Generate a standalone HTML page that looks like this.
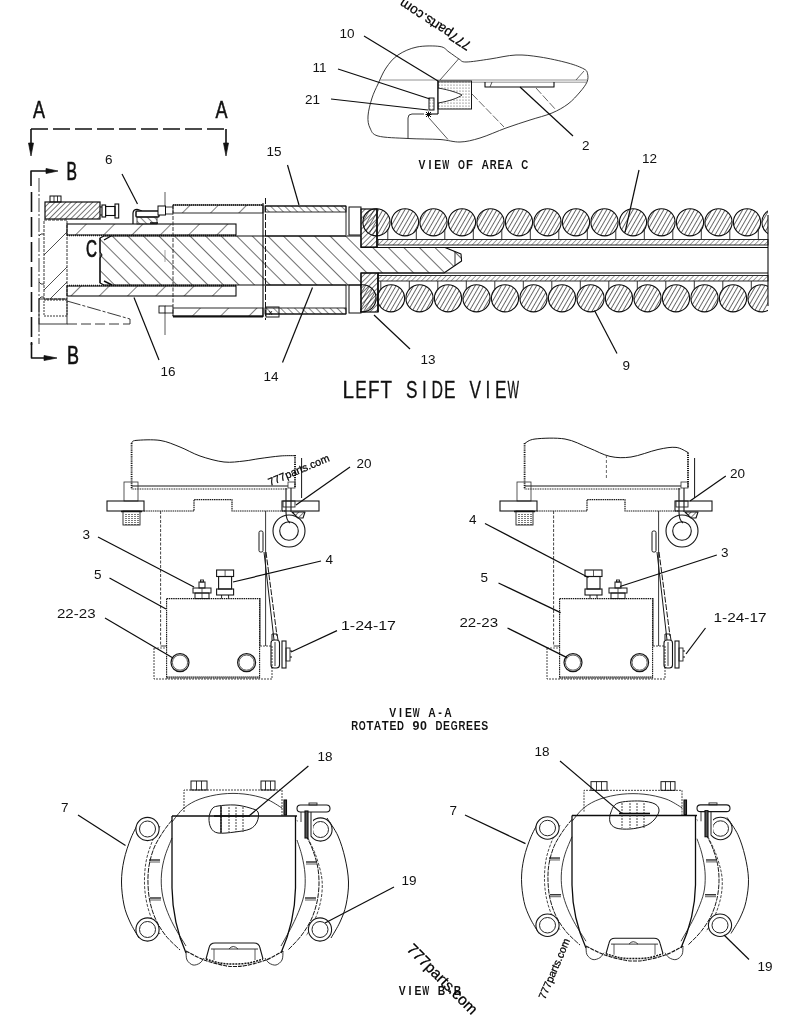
<!DOCTYPE html>
<html><head><meta charset="utf-8"><title>Parts diagram</title>
<style>
html,body{margin:0;padding:0;background:#fff;}
body{width:800px;height:1028px;overflow:hidden;font-family:"Liberation Sans",sans-serif;}
svg{display:block;opacity:0.999;will-change:transform}
</style></head><body>
<svg width="800" height="1028" viewBox="0 0 800 1028">
<rect width="800" height="1028" fill="#fff"/>
<defs>
<pattern id="hR" width="11" height="11" patternUnits="userSpaceOnUse" patternTransform="rotate(-45)"><line x1="0" y1="0" x2="0" y2="11" stroke="#0c0c0c" stroke-width="1.20"/></pattern>
<pattern id="hS" width="20" height="20" patternUnits="userSpaceOnUse" patternTransform="rotate(-135)"><line x1="0" y1="0" x2="0" y2="20" stroke="#161616" stroke-width="1.10"/></pattern>
<pattern id="hB" width="3.8" height="3.8" patternUnits="userSpaceOnUse" patternTransform="rotate(-135)"><line x1="0" y1="0" x2="0" y2="3.8" stroke="#0c0c0c" stroke-width="1.10"/></pattern>
<pattern id="hT" width="5" height="5" patternUnits="userSpaceOnUse" patternTransform="rotate(-45)"><line x1="0" y1="0" x2="0" y2="5" stroke="#161616" stroke-width="1.00"/></pattern>
<pattern id="hC" width="3.8" height="3.8" patternUnits="userSpaceOnUse" patternTransform="rotate(-150)"><line x1="0" y1="0" x2="0" y2="3.8" stroke="#0c0c0c" stroke-width="1.20"/></pattern>
<pattern id="hI" width="3.5" height="3.5" patternUnits="userSpaceOnUse" patternTransform="rotate(-135)"><line x1="0" y1="0" x2="0" y2="3.5" stroke="#303030" stroke-width="0.90"/></pattern>
<pattern id="hD" width="3" height="3" patternUnits="userSpaceOnUse"><circle cx="1" cy="1" r="0.6" fill="#444"/></pattern>
</defs>
<text transform="translate(39.00,117.5) scale(0.781,1)" x="0" y="0" font-family="'Liberation Sans', sans-serif" font-size="23.04" font-weight="normal" text-anchor="middle" fill="#111" style="stroke:#111;stroke-width:0.5px">A</text>
<text transform="translate(221.50,117.5) scale(0.781,1)" x="0" y="0" font-family="'Liberation Sans', sans-serif" font-size="23.04" font-weight="normal" text-anchor="middle" fill="#111" style="stroke:#111;stroke-width:0.5px">A</text>
<line x1="31.0" y1="129.0" x2="226.0" y2="129.0" stroke="#111" stroke-width="1.60" stroke-dasharray="17 5" />
<line x1="31.0" y1="129.0" x2="31.0" y2="150.0" stroke="#111" stroke-width="1.60" />
<path d="M28.5,143.0 L33.5,143.0 L31.0,156.0 Z" fill="#111" stroke="#111" stroke-width="0.70" stroke-linejoin="round" />
<line x1="226.0" y1="129.0" x2="226.0" y2="150.0" stroke="#111" stroke-width="1.60" />
<path d="M223.5,143.0 L228.5,143.0 L226.0,156.0 Z" fill="#111" stroke="#111" stroke-width="0.70" stroke-linejoin="round" />
<path d="M31.0,186.0 L31.0,171.0 L50.0,171.0" fill="none" stroke="#111" stroke-width="1.60" stroke-linejoin="round" />
<path d="M46.0,168.5 L46.0,173.5 L58.0,171.0 Z" fill="#111" stroke="#111" stroke-width="0.70" stroke-linejoin="round" />
<text transform="translate(71.75,180.0) scale(0.626,1)" x="0" y="0" font-family="'Liberation Sans', sans-serif" font-size="25.14" font-weight="normal" text-anchor="middle" fill="#111" style="stroke:#111;stroke-width:0.6px">B</text>
<line x1="31.5" y1="192.0" x2="31.5" y2="345.0" stroke="#111" stroke-width="1.60" stroke-dasharray="20 5" />
<path d="M31.5,343.0 L31.5,358.0 L48.0,358.0" fill="none" stroke="#111" stroke-width="1.60" stroke-linejoin="round" />
<path d="M44.0,355.5 L44.0,360.5 L57.0,358.0 Z" fill="#111" stroke="#111" stroke-width="0.70" stroke-linejoin="round" />
<text transform="translate(73.00,364.0) scale(0.696,1)" x="0" y="0" font-family="'Liberation Sans', sans-serif" font-size="25.84" font-weight="normal" text-anchor="middle" fill="#111" style="stroke:#111;stroke-width:0.6px">B</text>
<line x1="39.0" y1="178.0" x2="39.0" y2="344.0" stroke="#303030" stroke-width="0.90" stroke-dasharray="14 2 2 2" />
<rect x="45.0" y="202.0" width="55.0" height="17.0" rx="0" fill="url(#hB)" stroke="#0c0c0c" stroke-width="1.20"/>
<rect x="50.0" y="196.0" width="11.0" height="6.0" rx="0" fill="none" stroke="#0c0c0c" stroke-width="1.00"/>
<line x1="54.0" y1="196.0" x2="54.0" y2="202.0" stroke="#0c0c0c" stroke-width="0.80" />
<line x1="57.5" y1="196.0" x2="57.5" y2="202.0" stroke="#0c0c0c" stroke-width="0.80" />
<rect x="102.0" y="205.0" width="3.6" height="12.0" rx="0" fill="none" stroke="#0c0c0c" stroke-width="1.10"/>
<rect x="105.6" y="206.5" width="9.4" height="9.0" rx="0" fill="none" stroke="#0c0c0c" stroke-width="1.10"/>
<rect x="115.0" y="204.0" width="3.7" height="14.0" rx="0" fill="none" stroke="#0c0c0c" stroke-width="1.10"/>
<line x1="100.0" y1="207.0" x2="102.0" y2="207.0" stroke="#0c0c0c" stroke-width="1.00" />
<line x1="100.0" y1="215.0" x2="102.0" y2="215.0" stroke="#0c0c0c" stroke-width="1.00" />
<rect x="44.0" y="220.0" width="23.0" height="79.0" rx="0" fill="none" stroke="#222" stroke-width="0.90" stroke-dasharray="3 1"/>
<line x1="44.0" y1="255.0" x2="67.0" y2="232.0" stroke="#222" stroke-width="0.80" />
<line x1="44.0" y1="290.0" x2="67.0" y2="267.0" stroke="#222" stroke-width="0.80" />
<line x1="50.0" y1="299.0" x2="67.0" y2="282.0" stroke="#222" stroke-width="0.80" />
<path d="M39,236 L41,234 L44,234 M39,282 L41,284 L44,284 M39,299 L41,297 L44,297" fill="none" stroke="#222" stroke-width="0.90" stroke-linejoin="round" />
<rect x="67.0" y="224.0" width="169.0" height="11.0" rx="0" fill="url(#hS)" stroke="#0c0c0c" stroke-width="1.10"/>
<line x1="67.0" y1="235.5" x2="236.0" y2="235.5" stroke="#161616" stroke-width="1.40" stroke-dasharray="1 1" />
<rect x="67.0" y="286.0" width="169.0" height="10.0" rx="0" fill="url(#hS)" stroke="#0c0c0c" stroke-width="1.10"/>
<line x1="67.0" y1="285.5" x2="236.0" y2="285.5" stroke="#161616" stroke-width="1.40" stroke-dasharray="1 1" />
<path d="M100,238 L104,236 L361,236 L361,247.5 L445,247.5 L461,254 L461.6,261 L444,273 L361,273 L361,285 L104,285 L100,283 Z" fill="url(#hR)" stroke="#0c0c0c" stroke-width="1.10" stroke-linejoin="round" />
<path d="M455,251.5 L455,266" fill="none" stroke="#161616" stroke-width="0.90" stroke-linejoin="round" />
<path d="M100,238 L100,252 L102,255 L100,258 L100,283" fill="none" stroke="#0c0c0c" stroke-width="1.10" stroke-linejoin="round" />
<path d="M104,240 L111,236 M104,281 L112,285" fill="none" stroke="#0c0c0c" stroke-width="1.40" stroke-linejoin="round" />
<text transform="translate(91.50,257.0) scale(0.642,1)" x="0" y="0" font-family="'Liberation Sans', sans-serif" font-size="23.74" font-weight="normal" text-anchor="middle" fill="#111" style="stroke:#111;stroke-width:0.7px">C</text>
<rect x="173.0" y="205.0" width="90.0" height="8.0" rx="0" fill="url(#hS)" stroke="#161616" stroke-width="0.90"/>
<line x1="165.0" y1="207.0" x2="173.0" y2="207.0" stroke="#222" stroke-width="0.90" />
<line x1="165.0" y1="214.0" x2="173.0" y2="214.0" stroke="#222" stroke-width="0.90" />
<line x1="165.0" y1="306.0" x2="173.0" y2="306.0" stroke="#222" stroke-width="0.90" />
<line x1="165.0" y1="313.0" x2="173.0" y2="313.0" stroke="#222" stroke-width="0.90" />
<rect x="173.0" y="308.0" width="90.0" height="8.0" rx="0" fill="url(#hS)" stroke="#161616" stroke-width="0.90"/>
<line x1="173.0" y1="205.0" x2="263.0" y2="205.0" stroke="#111" stroke-width="1.60" stroke-dasharray="1.2 0.8" />
<line x1="173.0" y1="316.5" x2="263.0" y2="316.5" stroke="#111" stroke-width="1.80" />
<line x1="173.0" y1="205.0" x2="173.0" y2="316.0" stroke="#222" stroke-width="0.90" stroke-dasharray="4 1.5" />
<line x1="165.0" y1="192.0" x2="165.0" y2="207.0" stroke="#303030" stroke-width="0.80" />
<line x1="165.0" y1="313.0" x2="165.0" y2="335.0" stroke="#303030" stroke-width="0.80" />
<line x1="165.0" y1="250.0" x2="165.0" y2="262.0" stroke="#777" stroke-width="0.70" />
<line x1="263.0" y1="203.0" x2="263.0" y2="317.0" stroke="#0c0c0c" stroke-width="1.10" />
<line x1="265.5" y1="198.0" x2="265.5" y2="320.0" stroke="#161616" stroke-width="1.00" stroke-dasharray="6 2" />
<rect x="159.0" y="306.0" width="6.0" height="7.0" rx="0" fill="none" stroke="#0c0c0c" stroke-width="0.90"/>
<path d="M133,224 L133,213 Q133.5,209 138,209.5 L142,211" fill="none" stroke="#0c0c0c" stroke-width="1.20" stroke-linejoin="round" />
<rect x="136.0" y="211.0" width="23.0" height="6.0" rx="1" fill="#fff" stroke="#111" stroke-width="1.50"/>
<rect x="137.0" y="217.0" width="20.0" height="7.0" rx="0" fill="url(#hT)" stroke="#222" stroke-width="0.80"/>
<line x1="150.0" y1="223.0" x2="158.0" y2="223.0" stroke="#111" stroke-width="1.60" />
<rect x="158.0" y="206.0" width="7.5" height="9.0" rx="0" fill="#fff" stroke="#0c0c0c" stroke-width="1.00"/>
<rect x="265.0" y="206.0" width="81.0" height="6.0" rx="0" fill="url(#hT)" stroke="#161616" stroke-width="0.90"/>
<rect x="265.0" y="308.0" width="81.0" height="6.0" rx="0" fill="url(#hT)" stroke="#161616" stroke-width="0.90"/>
<line x1="265.0" y1="206.0" x2="346.0" y2="206.0" stroke="#0c0c0c" stroke-width="1.20" />
<line x1="265.0" y1="314.0" x2="346.0" y2="314.0" stroke="#0c0c0c" stroke-width="1.20" />
<line x1="265.0" y1="236.0" x2="346.0" y2="236.0" stroke="#0c0c0c" stroke-width="1.00" />
<line x1="265.0" y1="285.0" x2="346.0" y2="285.0" stroke="#0c0c0c" stroke-width="1.00" />
<rect x="266.0" y="307.0" width="13.0" height="10.0" rx="0" fill="none" stroke="#161616" stroke-width="1.00"/>
<text x="268.5" y="315.0" font-family="'Liberation Sans', sans-serif" font-size="8" font-weight="normal" text-anchor="start" fill="#111" >x</text>
<rect x="349.0" y="207.0" width="12.0" height="28.0" rx="0" fill="none" stroke="#0c0c0c" stroke-width="1.00"/>
<rect x="349.0" y="285.0" width="12.0" height="28.0" rx="0" fill="none" stroke="#0c0c0c" stroke-width="1.00"/>
<line x1="346.0" y1="206.0" x2="346.0" y2="235.0" stroke="#0c0c0c" stroke-width="0.90" />
<line x1="346.0" y1="285.0" x2="346.0" y2="314.0" stroke="#0c0c0c" stroke-width="0.90" />
<rect x="361.0" y="209.0" width="16.0" height="38.0" rx="0" fill="url(#hB)" stroke="#0c0c0c" stroke-width="1.20"/>
<rect x="361.0" y="273.0" width="17.0" height="39.0" rx="0" fill="url(#hB)" stroke="#0c0c0c" stroke-width="1.20"/>
<line x1="377.0" y1="209.0" x2="377.0" y2="247.0" stroke="#111" stroke-width="1.60" />
<line x1="378.0" y1="273.0" x2="378.0" y2="312.0" stroke="#111" stroke-width="1.60" />
<rect x="378.0" y="239.5" width="390.0" height="5.5" rx="0" fill="url(#hI)" stroke="#161616" stroke-width="0.90"/>
<rect x="378.0" y="275.5" width="390.0" height="5.5" rx="0" fill="url(#hI)" stroke="#161616" stroke-width="0.90"/>
<line x1="378.0" y1="247.5" x2="768.0" y2="247.5" stroke="#0c0c0c" stroke-width="1.10" />
<line x1="378.0" y1="273.0" x2="768.0" y2="273.0" stroke="#0c0c0c" stroke-width="1.10" />
<line x1="768.0" y1="215.0" x2="768.0" y2="306.0" stroke="#0c0c0c" stroke-width="1.10" />
<clipPath id="cc"><rect x="360" y="200" width="408" height="120"/></clipPath><g clip-path="url(#cc)">
<circle cx="376.5" cy="222.3" r="13.6" fill="url(#hC)" stroke="#0c0c0c" stroke-width="1.10"/>
<circle cx="405.0" cy="222.3" r="13.6" fill="url(#hC)" stroke="#0c0c0c" stroke-width="1.10"/>
<line x1="387.8" y1="229.0" x2="387.8" y2="239.5" stroke="#222" stroke-width="0.90" />
<circle cx="433.5" cy="222.3" r="13.6" fill="url(#hC)" stroke="#0c0c0c" stroke-width="1.10"/>
<line x1="416.3" y1="229.0" x2="416.3" y2="239.5" stroke="#222" stroke-width="0.90" />
<circle cx="462.0" cy="222.3" r="13.6" fill="url(#hC)" stroke="#0c0c0c" stroke-width="1.10"/>
<line x1="444.8" y1="229.0" x2="444.8" y2="239.5" stroke="#222" stroke-width="0.90" />
<circle cx="490.5" cy="222.3" r="13.6" fill="url(#hC)" stroke="#0c0c0c" stroke-width="1.10"/>
<line x1="473.3" y1="229.0" x2="473.3" y2="239.5" stroke="#222" stroke-width="0.90" />
<circle cx="519.0" cy="222.3" r="13.6" fill="url(#hC)" stroke="#0c0c0c" stroke-width="1.10"/>
<line x1="501.8" y1="229.0" x2="501.8" y2="239.5" stroke="#222" stroke-width="0.90" />
<circle cx="547.5" cy="222.3" r="13.6" fill="url(#hC)" stroke="#0c0c0c" stroke-width="1.10"/>
<line x1="530.3" y1="229.0" x2="530.3" y2="239.5" stroke="#222" stroke-width="0.90" />
<circle cx="576.0" cy="222.3" r="13.6" fill="url(#hC)" stroke="#0c0c0c" stroke-width="1.10"/>
<line x1="558.8" y1="229.0" x2="558.8" y2="239.5" stroke="#222" stroke-width="0.90" />
<circle cx="604.5" cy="222.3" r="13.6" fill="url(#hC)" stroke="#0c0c0c" stroke-width="1.10"/>
<line x1="587.3" y1="229.0" x2="587.3" y2="239.5" stroke="#222" stroke-width="0.90" />
<circle cx="633.0" cy="222.3" r="13.6" fill="url(#hC)" stroke="#0c0c0c" stroke-width="1.10"/>
<line x1="615.8" y1="229.0" x2="615.8" y2="239.5" stroke="#222" stroke-width="0.90" />
<circle cx="661.5" cy="222.3" r="13.6" fill="url(#hC)" stroke="#0c0c0c" stroke-width="1.10"/>
<line x1="644.3" y1="229.0" x2="644.3" y2="239.5" stroke="#222" stroke-width="0.90" />
<circle cx="690.0" cy="222.3" r="13.6" fill="url(#hC)" stroke="#0c0c0c" stroke-width="1.10"/>
<line x1="672.8" y1="229.0" x2="672.8" y2="239.5" stroke="#222" stroke-width="0.90" />
<circle cx="718.5" cy="222.3" r="13.6" fill="url(#hC)" stroke="#0c0c0c" stroke-width="1.10"/>
<line x1="701.3" y1="229.0" x2="701.3" y2="239.5" stroke="#222" stroke-width="0.90" />
<circle cx="747.0" cy="222.3" r="13.6" fill="url(#hC)" stroke="#0c0c0c" stroke-width="1.10"/>
<line x1="729.8" y1="229.0" x2="729.8" y2="239.5" stroke="#222" stroke-width="0.90" />
<circle cx="775.5" cy="222.3" r="13.6" fill="url(#hC)" stroke="#0c0c0c" stroke-width="1.10"/>
<line x1="758.3" y1="229.0" x2="758.3" y2="239.5" stroke="#222" stroke-width="0.90" />
<circle cx="362.5" cy="298.3" r="13.6" fill="url(#hC)" stroke="#0c0c0c" stroke-width="1.10"/>
<circle cx="391.0" cy="298.3" r="13.6" fill="url(#hC)" stroke="#0c0c0c" stroke-width="1.10"/>
<line x1="380.8" y1="281.0" x2="380.8" y2="290.0" stroke="#222" stroke-width="0.90" />
<circle cx="419.5" cy="298.3" r="13.6" fill="url(#hC)" stroke="#0c0c0c" stroke-width="1.10"/>
<line x1="409.3" y1="281.0" x2="409.3" y2="290.0" stroke="#222" stroke-width="0.90" />
<circle cx="448.0" cy="298.3" r="13.6" fill="url(#hC)" stroke="#0c0c0c" stroke-width="1.10"/>
<line x1="437.8" y1="281.0" x2="437.8" y2="290.0" stroke="#222" stroke-width="0.90" />
<circle cx="476.5" cy="298.3" r="13.6" fill="url(#hC)" stroke="#0c0c0c" stroke-width="1.10"/>
<line x1="466.3" y1="281.0" x2="466.3" y2="290.0" stroke="#222" stroke-width="0.90" />
<circle cx="505.0" cy="298.3" r="13.6" fill="url(#hC)" stroke="#0c0c0c" stroke-width="1.10"/>
<line x1="494.8" y1="281.0" x2="494.8" y2="290.0" stroke="#222" stroke-width="0.90" />
<circle cx="533.5" cy="298.3" r="13.6" fill="url(#hC)" stroke="#0c0c0c" stroke-width="1.10"/>
<line x1="523.3" y1="281.0" x2="523.3" y2="290.0" stroke="#222" stroke-width="0.90" />
<circle cx="562.0" cy="298.3" r="13.6" fill="url(#hC)" stroke="#0c0c0c" stroke-width="1.10"/>
<line x1="551.8" y1="281.0" x2="551.8" y2="290.0" stroke="#222" stroke-width="0.90" />
<circle cx="590.5" cy="298.3" r="13.6" fill="url(#hC)" stroke="#0c0c0c" stroke-width="1.10"/>
<line x1="580.3" y1="281.0" x2="580.3" y2="290.0" stroke="#222" stroke-width="0.90" />
<circle cx="619.0" cy="298.3" r="13.6" fill="url(#hC)" stroke="#0c0c0c" stroke-width="1.10"/>
<line x1="608.8" y1="281.0" x2="608.8" y2="290.0" stroke="#222" stroke-width="0.90" />
<circle cx="647.5" cy="298.3" r="13.6" fill="url(#hC)" stroke="#0c0c0c" stroke-width="1.10"/>
<line x1="637.3" y1="281.0" x2="637.3" y2="290.0" stroke="#222" stroke-width="0.90" />
<circle cx="676.0" cy="298.3" r="13.6" fill="url(#hC)" stroke="#0c0c0c" stroke-width="1.10"/>
<line x1="665.8" y1="281.0" x2="665.8" y2="290.0" stroke="#222" stroke-width="0.90" />
<circle cx="704.5" cy="298.3" r="13.6" fill="url(#hC)" stroke="#0c0c0c" stroke-width="1.10"/>
<line x1="694.3" y1="281.0" x2="694.3" y2="290.0" stroke="#222" stroke-width="0.90" />
<circle cx="733.0" cy="298.3" r="13.6" fill="url(#hC)" stroke="#0c0c0c" stroke-width="1.10"/>
<line x1="722.8" y1="281.0" x2="722.8" y2="290.0" stroke="#222" stroke-width="0.90" />
<circle cx="761.5" cy="298.3" r="13.6" fill="url(#hC)" stroke="#0c0c0c" stroke-width="1.10"/>
<line x1="751.3" y1="281.0" x2="751.3" y2="290.0" stroke="#222" stroke-width="0.90" />
<circle cx="790.0" cy="298.3" r="13.6" fill="url(#hC)" stroke="#0c0c0c" stroke-width="1.10"/>
<line x1="779.8" y1="281.0" x2="779.8" y2="290.0" stroke="#222" stroke-width="0.90" />
</g>
<rect x="39.0" y="299.0" width="28.0" height="25.0" rx="0" fill="none" stroke="#222" stroke-width="0.90"/>
<rect x="44.0" y="300.0" width="23.0" height="16.0" rx="0" fill="none" stroke="#222" stroke-width="0.90" stroke-dasharray="2 1"/>
<line x1="67.0" y1="301.0" x2="130.0" y2="319.0" stroke="#222" stroke-width="0.90" stroke-dasharray="14 2 3 2" />
<line x1="67.0" y1="324.0" x2="130.0" y2="324.0" stroke="#222" stroke-width="0.90" stroke-dasharray="10 4" />
<line x1="130.0" y1="319.0" x2="130.0" y2="324.0" stroke="#222" stroke-width="0.90" />
<text transform="translate(348.25,397.5) scale(0.898,1)" x="0" y="0" font-family="'Liberation Sans', sans-serif" font-size="23.04" font-weight="normal" text-anchor="middle" fill="#111" style="stroke:#111;stroke-width:0.3px">L</text>
<text transform="translate(360.95,397.5) scale(0.748,1)" x="0" y="0" font-family="'Liberation Sans', sans-serif" font-size="23.04" font-weight="normal" text-anchor="middle" fill="#111" style="stroke:#111;stroke-width:0.3px">E</text>
<text transform="translate(373.65,397.5) scale(0.817,1)" x="0" y="0" font-family="'Liberation Sans', sans-serif" font-size="23.04" font-weight="normal" text-anchor="middle" fill="#111" style="stroke:#111;stroke-width:0.3px">F</text>
<text transform="translate(386.35,397.5) scale(0.817,1)" x="0" y="0" font-family="'Liberation Sans', sans-serif" font-size="23.04" font-weight="normal" text-anchor="middle" fill="#111" style="stroke:#111;stroke-width:0.3px">T</text>
<text transform="translate(411.75,397.5) scale(0.748,1)" x="0" y="0" font-family="'Liberation Sans', sans-serif" font-size="23.04" font-weight="normal" text-anchor="middle" fill="#111" style="stroke:#111;stroke-width:0.3px">S</text>
<text transform="translate(424.45,397.5) scale(0.748,1)" x="0" y="0" font-family="'Liberation Sans', sans-serif" font-size="23.04" font-weight="normal" text-anchor="middle" fill="#111" style="stroke:#111;stroke-width:0.3px">I</text>
<text transform="translate(437.15,397.5) scale(0.691,1)" x="0" y="0" font-family="'Liberation Sans', sans-serif" font-size="23.04" font-weight="normal" text-anchor="middle" fill="#111" style="stroke:#111;stroke-width:0.3px">D</text>
<text transform="translate(449.85,397.5) scale(0.748,1)" x="0" y="0" font-family="'Liberation Sans', sans-serif" font-size="23.04" font-weight="normal" text-anchor="middle" fill="#111" style="stroke:#111;stroke-width:0.3px">E</text>
<text transform="translate(475.25,397.5) scale(0.748,1)" x="0" y="0" font-family="'Liberation Sans', sans-serif" font-size="23.04" font-weight="normal" text-anchor="middle" fill="#111" style="stroke:#111;stroke-width:0.3px">V</text>
<text transform="translate(487.95,397.5) scale(0.748,1)" x="0" y="0" font-family="'Liberation Sans', sans-serif" font-size="23.04" font-weight="normal" text-anchor="middle" fill="#111" style="stroke:#111;stroke-width:0.3px">I</text>
<text transform="translate(500.65,397.5) scale(0.748,1)" x="0" y="0" font-family="'Liberation Sans', sans-serif" font-size="23.04" font-weight="normal" text-anchor="middle" fill="#111" style="stroke:#111;stroke-width:0.3px">E</text>
<text transform="translate(513.35,397.5) scale(0.529,1)" x="0" y="0" font-family="'Liberation Sans', sans-serif" font-size="23.04" font-weight="normal" text-anchor="middle" fill="#111" style="stroke:#111;stroke-width:0.3px">W</text>
<text x="105.0" y="164.3" font-family="'Liberation Sans', sans-serif" font-size="13.5" font-weight="normal" text-anchor="start" fill="#111" >6</text>
<line x1="122.0" y1="174.0" x2="137.5" y2="204.0" stroke="#0c0c0c" stroke-width="1.20" />
<text x="266.5" y="155.8" font-family="'Liberation Sans', sans-serif" font-size="13.5" font-weight="normal" text-anchor="start" fill="#111" >15</text>
<line x1="287.5" y1="165.0" x2="299.0" y2="205.0" stroke="#0c0c0c" stroke-width="1.20" />
<text x="642.0" y="163.3" font-family="'Liberation Sans', sans-serif" font-size="13.5" font-weight="normal" text-anchor="start" fill="#111" >12</text>
<line x1="639.0" y1="170.0" x2="625.0" y2="232.5" stroke="#0c0c0c" stroke-width="1.20" />
<text x="160.5" y="375.8" font-family="'Liberation Sans', sans-serif" font-size="13.5" font-weight="normal" text-anchor="start" fill="#111" >16</text>
<line x1="159.0" y1="360.0" x2="134.0" y2="297.5" stroke="#0c0c0c" stroke-width="1.20" />
<text x="263.5" y="380.8" font-family="'Liberation Sans', sans-serif" font-size="13.5" font-weight="normal" text-anchor="start" fill="#111" >14</text>
<line x1="282.5" y1="362.5" x2="312.5" y2="287.5" stroke="#0c0c0c" stroke-width="1.20" />
<text x="420.5" y="364.3" font-family="'Liberation Sans', sans-serif" font-size="13.5" font-weight="normal" text-anchor="start" fill="#111" >13</text>
<line x1="410.0" y1="349.0" x2="374.0" y2="315.0" stroke="#0c0c0c" stroke-width="1.20" />
<text x="622.5" y="370.3" font-family="'Liberation Sans', sans-serif" font-size="13.5" font-weight="normal" text-anchor="start" fill="#111" >9</text>
<line x1="617.0" y1="353.5" x2="594.5" y2="310.5" stroke="#0c0c0c" stroke-width="1.20" />
<path d="M417.0,47.0 C410.0,48.4 403.2,51.5 398.0,55.0 C392.8,58.5 389.3,63.2 386.0,68.0 C382.7,72.8 380.3,79.0 378.0,84.0 C375.7,89.0 373.7,92.7 372.0,98.0 C370.3,103.3 368.3,111.0 368.0,116.0 C367.7,121.0 368.3,124.7 370.0,128.0 C371.7,131.3 371.7,134.2 378.0,136.0 C384.3,137.8 397.7,137.9 408.0,138.5 C418.3,139.1 431.3,138.9 440.0,139.5 C448.7,140.1 453.3,142.2 460.0,142.0 C466.7,141.8 472.3,140.3 480.0,138.0 C487.7,135.7 497.7,131.0 506.0,128.0 C514.3,125.0 522.3,122.5 530.0,120.0 C537.7,117.5 545.7,115.7 552.0,113.0 C558.3,110.3 563.3,107.5 568.0,104.0 C572.7,100.5 576.8,95.7 580.0,92.0 C583.2,88.3 585.7,85.0 587.0,82.0 C588.3,79.0 588.1,76.2 587.6,74.0 C587.1,71.8 587.3,70.8 584.0,69.0 C580.7,67.2 575.3,65.0 568.0,63.0 C560.7,61.0 548.7,58.3 540.0,57.0 C531.3,55.7 524.3,54.7 516.0,55.0 C507.7,55.3 498.3,57.8 490.0,59.0 C481.7,60.2 471.2,62.0 466.0,62.0 C460.8,62.0 461.8,60.7 459.0,59.0 C456.2,57.3 452.2,54.1 449.0,52.0 C445.8,49.9 445.3,47.3 440.0,46.5 C434.7,45.7 424.0,45.6 417.0,47.0 Z" fill="none" stroke="#222" stroke-width="0.90" stroke-linejoin="round" />
<line x1="380.0" y1="80.0" x2="587.0" y2="80.0" stroke="#777" stroke-width="0.80" />
<line x1="438.0" y1="82.2" x2="587.0" y2="82.2" stroke="#777" stroke-width="0.80" />
<rect x="438.0" y="81.0" width="33.5" height="28.0" rx="0" fill="url(#hD)" stroke="#161616" stroke-width="1.00"/>
<path d="M438,88 C450,90 458,93 462,95 C458,98 450,101 438,103" fill="#fff" stroke="#161616" stroke-width="0.90" stroke-linejoin="round" />
<line x1="438.0" y1="81.0" x2="438.0" y2="114.0" stroke="#0c0c0c" stroke-width="1.20" />
<line x1="429.0" y1="114.0" x2="438.0" y2="114.0" stroke="#0c0c0c" stroke-width="1.10" />
<rect x="429.0" y="98.0" width="5.0" height="12.0" rx="0" fill="url(#hD)" stroke="#161616" stroke-width="1.00"/>
<path d="M426,112 l5,5 m0,-5 l-5,5 m-0.5,-2.5 h6 m-3,-3 v6" fill="none" stroke="#0c0c0c" stroke-width="1.00" stroke-linejoin="round" />
<path d="M408,138.5 L408,118 Q408,114 412,114 L424,114" fill="none" stroke="#222" stroke-width="0.90" stroke-linejoin="round" />
<line x1="429.0" y1="118.0" x2="448.0" y2="139.5" stroke="#303030" stroke-width="0.80" />
<line x1="458.5" y1="59.0" x2="440.0" y2="80.0" stroke="#303030" stroke-width="0.80" />
<line x1="472.0" y1="94.0" x2="504.0" y2="127.0" stroke="#404040" stroke-width="0.80" stroke-dasharray="8 2" />
<line x1="536.0" y1="88.0" x2="556.0" y2="110.0" stroke="#404040" stroke-width="0.80" stroke-dasharray="8 2" />
<line x1="584.0" y1="71.0" x2="576.0" y2="80.0" stroke="#404040" stroke-width="0.80" />
<path d="M485,82 L485,87 L554,87 L554,82" fill="none" stroke="#0c0c0c" stroke-width="1.10" stroke-linejoin="round" />
<line x1="490.0" y1="87.0" x2="492.0" y2="82.0" stroke="#303030" stroke-width="0.80" />
<text x="339.5" y="38.3" font-family="'Liberation Sans', sans-serif" font-size="13.5" font-weight="normal" text-anchor="start" fill="#111" >10</text>
<line x1="364.0" y1="36.0" x2="438.0" y2="81.0" stroke="#0c0c0c" stroke-width="1.20" />
<text x="312.5" y="72.3" font-family="'Liberation Sans', sans-serif" font-size="13.5" font-weight="normal" text-anchor="start" fill="#111" >11</text>
<line x1="338.0" y1="69.0" x2="430.0" y2="99.0" stroke="#0c0c0c" stroke-width="1.20" />
<text x="305.0" y="103.8" font-family="'Liberation Sans', sans-serif" font-size="13.5" font-weight="normal" text-anchor="start" fill="#111" >21</text>
<line x1="331.0" y1="99.0" x2="428.0" y2="110.0" stroke="#0c0c0c" stroke-width="1.20" />
<text x="582.0" y="150.3" font-family="'Liberation Sans', sans-serif" font-size="13.5" font-weight="normal" text-anchor="start" fill="#111" >2</text>
<line x1="520.0" y1="87.0" x2="573.0" y2="136.0" stroke="#0c0c0c" stroke-width="1.20" />
<text transform="translate(422.00,168.5) scale(0.826,1)" x="0" y="0" font-family="'Liberation Sans', sans-serif" font-size="12.57" font-weight="bold" text-anchor="middle" fill="#111" style="stroke:#111;stroke-width:0px">V</text>
<text transform="translate(429.90,168.5) scale(0.859,1)" x="0" y="0" font-family="'Liberation Sans', sans-serif" font-size="12.57" font-weight="bold" text-anchor="middle" fill="#111" style="stroke:#111;stroke-width:0px">I</text>
<text transform="translate(437.80,168.5) scale(0.826,1)" x="0" y="0" font-family="'Liberation Sans', sans-serif" font-size="12.57" font-weight="bold" text-anchor="middle" fill="#111" style="stroke:#111;stroke-width:0px">E</text>
<text transform="translate(445.70,168.5) scale(0.583,1)" x="0" y="0" font-family="'Liberation Sans', sans-serif" font-size="12.57" font-weight="bold" text-anchor="middle" fill="#111" style="stroke:#111;stroke-width:0px">W</text>
<text transform="translate(461.50,168.5) scale(0.708,1)" x="0" y="0" font-family="'Liberation Sans', sans-serif" font-size="12.57" font-weight="bold" text-anchor="middle" fill="#111" style="stroke:#111;stroke-width:0px">O</text>
<text transform="translate(469.40,168.5) scale(0.901,1)" x="0" y="0" font-family="'Liberation Sans', sans-serif" font-size="12.57" font-weight="bold" text-anchor="middle" fill="#111" style="stroke:#111;stroke-width:0px">F</text>
<text transform="translate(485.20,168.5) scale(0.826,1)" x="0" y="0" font-family="'Liberation Sans', sans-serif" font-size="12.57" font-weight="bold" text-anchor="middle" fill="#111" style="stroke:#111;stroke-width:0px">A</text>
<text transform="translate(493.10,168.5) scale(0.763,1)" x="0" y="0" font-family="'Liberation Sans', sans-serif" font-size="12.57" font-weight="bold" text-anchor="middle" fill="#111" style="stroke:#111;stroke-width:0px">R</text>
<text transform="translate(501.00,168.5) scale(0.826,1)" x="0" y="0" font-family="'Liberation Sans', sans-serif" font-size="12.57" font-weight="bold" text-anchor="middle" fill="#111" style="stroke:#111;stroke-width:0px">E</text>
<text transform="translate(508.90,168.5) scale(0.826,1)" x="0" y="0" font-family="'Liberation Sans', sans-serif" font-size="12.57" font-weight="bold" text-anchor="middle" fill="#111" style="stroke:#111;stroke-width:0px">A</text>
<text transform="translate(524.70,168.5) scale(0.763,1)" x="0" y="0" font-family="'Liberation Sans', sans-serif" font-size="12.57" font-weight="bold" text-anchor="middle" fill="#111" style="stroke:#111;stroke-width:0px">C</text>
<g transform="translate(472.3,43.3) rotate(213)">
<text x="0.0" y="0.0" font-family="'Liberation Sans', sans-serif" font-size="13.6" font-weight="normal" text-anchor="start" fill="#000" style="stroke:#000;stroke-width:0.25px">777parts.com</text>
</g>
<path d="M131.6,443.0 C132.3,442.6 131.3,440.8 136.0,440.4 C140.7,440.0 152.7,439.3 160.0,440.4 C167.3,441.5 173.3,444.4 180.0,447.0 C186.7,449.6 192.7,453.5 200.0,456.0 C207.3,458.5 216.7,461.2 224.0,462.0 C231.3,462.8 238.0,461.6 244.0,461.0 C250.0,460.4 254.0,459.3 260.0,458.5 C266.0,457.7 274.2,456.5 280.0,456.0 C285.8,455.5 292.5,455.7 295.0,455.6" fill="none" stroke="#161616" stroke-width="1.00" stroke-linejoin="round" />
<line x1="131.6" y1="443.0" x2="131.6" y2="489.0" stroke="#161616" stroke-width="1.80" stroke-dasharray="1.2 1" />
<line x1="295.0" y1="455.0" x2="295.0" y2="488.0" stroke="#161616" stroke-width="2.00" stroke-dasharray="1.2 1" />
<line x1="301.6" y1="458.0" x2="301.6" y2="498.0" stroke="#161616" stroke-width="1.00" />
<line x1="131.6" y1="486.0" x2="288.0" y2="486.0" stroke="#161616" stroke-width="1.00" />
<line x1="131.6" y1="489.0" x2="288.0" y2="489.0" stroke="#161616" stroke-width="1.20" stroke-dasharray="1 0.7" />
<rect x="124.0" y="482.0" width="14.0" height="19.0" rx="0" fill="none" stroke="#303030" stroke-width="0.80"/>
<rect x="288.0" y="482.0" width="7.0" height="6.0" rx="0" fill="none" stroke="#303030" stroke-width="0.80"/>
<rect x="107.0" y="501.0" width="37.0" height="10.0" rx="0" fill="none" stroke="#161616" stroke-width="1.10"/>
<rect x="282.0" y="501.0" width="37.0" height="10.0" rx="0" fill="none" stroke="#161616" stroke-width="1.10"/>
<path d="M144.0,511.0 L194.0,511.0 L194.0,499.6 L232.0,499.6 L232.0,511.0 L286.0,511.0" fill="none" stroke="#161616" stroke-width="1.20" stroke-dasharray="1.5 0.7" stroke-linejoin="round" />
<rect x="123.0" y="511.0" width="17.0" height="14.0" rx="0" fill="none" stroke="#222" stroke-width="0.90"/>
<line x1="126.0" y1="514.0" x2="126.0" y2="525.0" stroke="#222" stroke-width="1.20" stroke-dasharray="1 1" />
<line x1="129.0" y1="514.0" x2="129.0" y2="525.0" stroke="#222" stroke-width="1.20" stroke-dasharray="1 1" />
<line x1="132.0" y1="514.0" x2="132.0" y2="525.0" stroke="#222" stroke-width="1.20" stroke-dasharray="1 1" />
<line x1="135.0" y1="514.0" x2="135.0" y2="525.0" stroke="#222" stroke-width="1.20" stroke-dasharray="1 1" />
<line x1="138.0" y1="514.0" x2="138.0" y2="525.0" stroke="#222" stroke-width="1.20" stroke-dasharray="1 1" />
<line x1="121.0" y1="511.5" x2="142.0" y2="511.5" stroke="#161616" stroke-width="1.50" />
<path d="M292,512 L305,512 L303,518 L298,518 Z" fill="url(#hB)" stroke="#161616" stroke-width="1.10" stroke-linejoin="round" />
<path d="M286,488 L286,512 Q286,520 290,523 M291,488 L291,512" fill="none" stroke="#161616" stroke-width="1.10" stroke-linejoin="round" />
<rect x="283.0" y="501.0" width="12.0" height="6.0" rx="0" fill="none" stroke="#222" stroke-width="0.90"/>
<circle cx="289.0" cy="531.0" r="16.0" fill="none" stroke="#161616" stroke-width="1.10"/>
<circle cx="289.0" cy="531.0" r="9.3" fill="none" stroke="#161616" stroke-width="1.10"/>
<line x1="160.6" y1="511.0" x2="160.6" y2="646.0" stroke="#303030" stroke-width="0.90" stroke-dasharray="3 1.5" />
<line x1="265.6" y1="511.0" x2="265.6" y2="646.0" stroke="#222" stroke-width="0.90" />
<rect x="259.0" y="531.0" width="4.0" height="21.0" rx="1.5" fill="none" stroke="#161616" stroke-width="1.00"/>
<line x1="264.0" y1="552.0" x2="274.0" y2="640.0" stroke="#161616" stroke-width="1.00" />
<line x1="266.0" y1="552.0" x2="277.0" y2="636.0" stroke="#161616" stroke-width="1.00" stroke-dasharray="6 1.5" />
<line x1="260.0" y1="598.0" x2="260.0" y2="646.0" stroke="#222" stroke-width="0.90" />
<rect x="166.6" y="598.6" width="93.0" height="79.4" rx="0" fill="none" stroke="#161616" stroke-width="1.10" stroke-dasharray="1.5 0.7"/>
<line x1="166.6" y1="677.0" x2="259.6" y2="677.0" stroke="#161616" stroke-width="1.60" stroke-dasharray="1 1" />
<path d="M160.6,646.0 L166.6,646.0" fill="none" stroke="#222" stroke-width="0.90" stroke-linejoin="round" />
<path d="M154.0,648.0 L154.0,679.0 L272.0,679.0 L272.0,646.0 L260.0,646.0" fill="none" stroke="#303030" stroke-width="0.90" stroke-dasharray="2 1" stroke-linejoin="round" />
<line x1="154.0" y1="648.0" x2="166.0" y2="648.0" stroke="#404040" stroke-width="0.80" stroke-dasharray="2 1" />
<circle cx="180.0" cy="662.6" r="9.0" fill="none" stroke="#161616" stroke-width="1.20"/>
<circle cx="180.0" cy="662.6" r="7.6" fill="none" stroke="#303030" stroke-width="0.80"/>
<circle cx="246.6" cy="662.6" r="9.0" fill="none" stroke="#161616" stroke-width="1.20"/>
<circle cx="246.6" cy="662.6" r="7.6" fill="none" stroke="#303030" stroke-width="0.80"/>
<rect x="271.0" y="640.0" width="8.5" height="28.0" rx="3" fill="none" stroke="#161616" stroke-width="1.10"/>
<line x1="275.0" y1="642.0" x2="275.0" y2="666.0" stroke="#222" stroke-width="0.90" />
<path d="M272,640 L272,634 L277,634 L278,640" fill="none" stroke="#161616" stroke-width="1.00" stroke-linejoin="round" />
<rect x="282.0" y="641.0" width="4.0" height="27.0" rx="0" fill="none" stroke="#161616" stroke-width="1.10"/>
<rect x="286.0" y="648.0" width="4.0" height="13.0" rx="0" fill="none" stroke="#222" stroke-width="0.90"/>
<line x1="290.0" y1="651.0" x2="292.0" y2="651.0" stroke="#0c0c0c" stroke-width="1.00" />
<line x1="290.0" y1="657.0" x2="292.0" y2="657.0" stroke="#0c0c0c" stroke-width="1.00" />
<rect x="193.0" y="588.0" width="18.0" height="5.0" rx="0" fill="none" stroke="#161616" stroke-width="1.00"/>
<rect x="195.0" y="593.0" width="14.0" height="5.6" rx="0" fill="none" stroke="#161616" stroke-width="1.00"/>
<rect x="199.0" y="582.0" width="6.0" height="6.0" rx="0" fill="none" stroke="#161616" stroke-width="1.00"/>
<rect x="200.5" y="580.0" width="3.0" height="2.0" rx="0" fill="none" stroke="#161616" stroke-width="0.90"/>
<line x1="202.0" y1="588.0" x2="202.0" y2="598.0" stroke="#303030" stroke-width="0.80" />
<rect x="216.6" y="570.0" width="17.0" height="6.5" rx="0" fill="none" stroke="#161616" stroke-width="1.10"/>
<rect x="218.6" y="576.5" width="13.0" height="12.5" rx="0" fill="none" stroke="#161616" stroke-width="1.10"/>
<rect x="216.6" y="589.0" width="17.0" height="6.0" rx="0" fill="none" stroke="#161616" stroke-width="1.10"/>
<line x1="225.1" y1="570.0" x2="225.1" y2="576.0" stroke="#303030" stroke-width="0.80" />
<line x1="221.6" y1="595.0" x2="221.6" y2="598.6" stroke="#0c0c0c" stroke-width="0.90" />
<line x1="228.6" y1="595.0" x2="228.6" y2="598.6" stroke="#0c0c0c" stroke-width="0.90" />
<path d="M524.6,443.5 C526.3,442.8 528.3,439.8 535.0,439.0 C541.7,438.2 556.0,437.5 565.0,439.0 C574.0,440.5 581.5,445.1 589.0,448.0 C596.5,450.9 603.0,454.9 610.0,456.4 C617.0,457.9 623.0,458.1 631.0,457.0 C639.0,455.9 650.5,451.1 658.0,449.5 C665.5,447.9 671.0,446.9 676.0,447.4 C681.0,447.9 686.0,451.6 688.0,452.5" fill="none" stroke="#161616" stroke-width="1.00" stroke-linejoin="round" />
<line x1="606.4" y1="455.0" x2="606.4" y2="478.0" stroke="#404040" stroke-width="0.80" stroke-dasharray="3 2" />
<line x1="524.6" y1="443.0" x2="524.6" y2="489.0" stroke="#161616" stroke-width="1.80" stroke-dasharray="1.2 1" />
<line x1="688.0" y1="452.5" x2="688.0" y2="488.0" stroke="#161616" stroke-width="2.00" stroke-dasharray="1.2 1" />
<line x1="694.6" y1="458.0" x2="694.6" y2="498.0" stroke="#161616" stroke-width="1.00" />
<line x1="524.6" y1="486.0" x2="681.0" y2="486.0" stroke="#161616" stroke-width="1.00" />
<line x1="524.6" y1="489.0" x2="681.0" y2="489.0" stroke="#161616" stroke-width="1.20" stroke-dasharray="1 0.7" />
<rect x="517.0" y="482.0" width="14.0" height="19.0" rx="0" fill="none" stroke="#303030" stroke-width="0.80"/>
<rect x="681.0" y="482.0" width="7.0" height="6.0" rx="0" fill="none" stroke="#303030" stroke-width="0.80"/>
<rect x="500.0" y="501.0" width="37.0" height="10.0" rx="0" fill="none" stroke="#161616" stroke-width="1.10"/>
<rect x="675.0" y="501.0" width="37.0" height="10.0" rx="0" fill="none" stroke="#161616" stroke-width="1.10"/>
<path d="M537.0,511.0 L587.0,511.0 L587.0,499.6 L625.0,499.6 L625.0,511.0 L679.0,511.0" fill="none" stroke="#161616" stroke-width="1.20" stroke-dasharray="1.5 0.7" stroke-linejoin="round" />
<rect x="516.0" y="511.0" width="17.0" height="14.0" rx="0" fill="none" stroke="#222" stroke-width="0.90"/>
<line x1="519.0" y1="514.0" x2="519.0" y2="525.0" stroke="#222" stroke-width="1.20" stroke-dasharray="1 1" />
<line x1="522.0" y1="514.0" x2="522.0" y2="525.0" stroke="#222" stroke-width="1.20" stroke-dasharray="1 1" />
<line x1="525.0" y1="514.0" x2="525.0" y2="525.0" stroke="#222" stroke-width="1.20" stroke-dasharray="1 1" />
<line x1="528.0" y1="514.0" x2="528.0" y2="525.0" stroke="#222" stroke-width="1.20" stroke-dasharray="1 1" />
<line x1="531.0" y1="514.0" x2="531.0" y2="525.0" stroke="#222" stroke-width="1.20" stroke-dasharray="1 1" />
<line x1="514.0" y1="511.5" x2="535.0" y2="511.5" stroke="#161616" stroke-width="1.50" />
<path d="M685,512 L698,512 L696,518 L691,518 Z" fill="url(#hB)" stroke="#161616" stroke-width="1.10" stroke-linejoin="round" />
<path d="M679,488 L679,512 Q679,520 683,523 M684,488 L684,512" fill="none" stroke="#161616" stroke-width="1.10" stroke-linejoin="round" />
<rect x="676.0" y="501.0" width="12.0" height="6.0" rx="0" fill="none" stroke="#222" stroke-width="0.90"/>
<circle cx="682.0" cy="531.0" r="16.0" fill="none" stroke="#161616" stroke-width="1.10"/>
<circle cx="682.0" cy="531.0" r="9.3" fill="none" stroke="#161616" stroke-width="1.10"/>
<line x1="553.6" y1="511.0" x2="553.6" y2="646.0" stroke="#303030" stroke-width="0.90" stroke-dasharray="3 1.5" />
<line x1="658.6" y1="511.0" x2="658.6" y2="646.0" stroke="#222" stroke-width="0.90" />
<rect x="652.0" y="531.0" width="4.0" height="21.0" rx="1.5" fill="none" stroke="#161616" stroke-width="1.00"/>
<line x1="657.0" y1="552.0" x2="667.0" y2="640.0" stroke="#161616" stroke-width="1.00" />
<line x1="659.0" y1="552.0" x2="670.0" y2="636.0" stroke="#161616" stroke-width="1.00" stroke-dasharray="6 1.5" />
<line x1="653.0" y1="598.0" x2="653.0" y2="646.0" stroke="#222" stroke-width="0.90" />
<rect x="559.6" y="598.6" width="93.0" height="79.4" rx="0" fill="none" stroke="#161616" stroke-width="1.10" stroke-dasharray="1.5 0.7"/>
<line x1="559.6" y1="677.0" x2="652.6" y2="677.0" stroke="#161616" stroke-width="1.60" stroke-dasharray="1 1" />
<path d="M553.6,646.0 L559.6,646.0" fill="none" stroke="#222" stroke-width="0.90" stroke-linejoin="round" />
<path d="M547.0,648.0 L547.0,679.0 L665.0,679.0 L665.0,646.0 L653.0,646.0" fill="none" stroke="#303030" stroke-width="0.90" stroke-dasharray="2 1" stroke-linejoin="round" />
<line x1="547.0" y1="648.0" x2="559.0" y2="648.0" stroke="#404040" stroke-width="0.80" stroke-dasharray="2 1" />
<circle cx="573.0" cy="662.6" r="9.0" fill="none" stroke="#161616" stroke-width="1.20"/>
<circle cx="573.0" cy="662.6" r="7.6" fill="none" stroke="#303030" stroke-width="0.80"/>
<circle cx="639.6" cy="662.6" r="9.0" fill="none" stroke="#161616" stroke-width="1.20"/>
<circle cx="639.6" cy="662.6" r="7.6" fill="none" stroke="#303030" stroke-width="0.80"/>
<rect x="664.0" y="640.0" width="8.5" height="28.0" rx="3" fill="none" stroke="#161616" stroke-width="1.10"/>
<line x1="668.0" y1="642.0" x2="668.0" y2="666.0" stroke="#222" stroke-width="0.90" />
<path d="M665,640 L665,634 L670,634 L671,640" fill="none" stroke="#161616" stroke-width="1.00" stroke-linejoin="round" />
<rect x="675.0" y="641.0" width="4.0" height="27.0" rx="0" fill="none" stroke="#161616" stroke-width="1.10"/>
<rect x="679.0" y="648.0" width="4.0" height="13.0" rx="0" fill="none" stroke="#222" stroke-width="0.90"/>
<line x1="683.0" y1="651.0" x2="685.0" y2="651.0" stroke="#0c0c0c" stroke-width="1.00" />
<line x1="683.0" y1="657.0" x2="685.0" y2="657.0" stroke="#0c0c0c" stroke-width="1.00" />
<rect x="585.0" y="570.0" width="17.0" height="6.5" rx="0" fill="none" stroke="#161616" stroke-width="1.10"/>
<rect x="587.0" y="576.5" width="13.0" height="12.5" rx="0" fill="none" stroke="#161616" stroke-width="1.10"/>
<rect x="585.0" y="589.0" width="17.0" height="6.0" rx="0" fill="none" stroke="#161616" stroke-width="1.10"/>
<line x1="593.5" y1="570.0" x2="593.5" y2="576.0" stroke="#303030" stroke-width="0.80" />
<line x1="590.0" y1="595.0" x2="590.0" y2="598.6" stroke="#0c0c0c" stroke-width="0.90" />
<line x1="597.0" y1="595.0" x2="597.0" y2="598.6" stroke="#0c0c0c" stroke-width="0.90" />
<rect x="609.0" y="588.0" width="18.0" height="5.0" rx="0" fill="none" stroke="#161616" stroke-width="1.00"/>
<rect x="611.0" y="593.0" width="14.0" height="5.6" rx="0" fill="none" stroke="#161616" stroke-width="1.00"/>
<rect x="615.0" y="582.0" width="6.0" height="6.0" rx="0" fill="none" stroke="#161616" stroke-width="1.00"/>
<rect x="616.5" y="580.0" width="3.0" height="2.0" rx="0" fill="none" stroke="#161616" stroke-width="0.90"/>
<line x1="618.0" y1="588.0" x2="618.0" y2="598.0" stroke="#303030" stroke-width="0.80" />
<text x="82.5" y="538.8" font-family="'Liberation Sans', sans-serif" font-size="13.5" font-weight="normal" text-anchor="start" fill="#111" >3</text>
<line x1="98.0" y1="537.0" x2="194.0" y2="587.0" stroke="#0c0c0c" stroke-width="1.20" />
<text x="94.0" y="579.3" font-family="'Liberation Sans', sans-serif" font-size="13.5" font-weight="normal" text-anchor="start" fill="#111" >5</text>
<line x1="109.5" y1="578.0" x2="166.0" y2="609.0" stroke="#0c0c0c" stroke-width="1.20" />
<text x="57.0" y="617.8" font-family="'Liberation Sans', sans-serif" font-size="13.5" font-weight="normal" text-anchor="start" fill="#111" textLength="38.5" lengthAdjust="spacingAndGlyphs" >22-23</text>
<line x1="105.0" y1="618.0" x2="173.0" y2="658.0" stroke="#0c0c0c" stroke-width="1.20" />
<text x="325.5" y="563.8" font-family="'Liberation Sans', sans-serif" font-size="13.5" font-weight="normal" text-anchor="start" fill="#111" >4</text>
<line x1="321.0" y1="561.0" x2="233.0" y2="582.0" stroke="#0c0c0c" stroke-width="1.20" />
<text x="356.5" y="467.8" font-family="'Liberation Sans', sans-serif" font-size="13.5" font-weight="normal" text-anchor="start" fill="#111" >20</text>
<line x1="350.0" y1="467.0" x2="296.0" y2="505.0" stroke="#0c0c0c" stroke-width="1.20" />
<text x="341.0" y="629.8" font-family="'Liberation Sans', sans-serif" font-size="13.5" font-weight="normal" text-anchor="start" fill="#111" textLength="55" lengthAdjust="spacingAndGlyphs" >1-24-17</text>
<line x1="337.0" y1="630.6" x2="291.0" y2="652.0" stroke="#0c0c0c" stroke-width="1.20" />
<text x="469.0" y="524.3" font-family="'Liberation Sans', sans-serif" font-size="13.5" font-weight="normal" text-anchor="start" fill="#111" >4</text>
<line x1="485.0" y1="523.5" x2="588.5" y2="577.5" stroke="#0c0c0c" stroke-width="1.20" />
<text x="480.5" y="582.3" font-family="'Liberation Sans', sans-serif" font-size="13.5" font-weight="normal" text-anchor="start" fill="#111" >5</text>
<line x1="498.5" y1="583.0" x2="560.6" y2="612.6" stroke="#0c0c0c" stroke-width="1.20" />
<text x="459.5" y="627.3" font-family="'Liberation Sans', sans-serif" font-size="13.5" font-weight="normal" text-anchor="start" fill="#111" textLength="38.5" lengthAdjust="spacingAndGlyphs" >22-23</text>
<line x1="507.5" y1="628.0" x2="567.0" y2="657.6" stroke="#0c0c0c" stroke-width="1.20" />
<text x="721.0" y="556.8" font-family="'Liberation Sans', sans-serif" font-size="13.5" font-weight="normal" text-anchor="start" fill="#111" >3</text>
<line x1="716.8" y1="555.0" x2="620.0" y2="586.5" stroke="#0c0c0c" stroke-width="1.20" />
<text x="730.0" y="477.8" font-family="'Liberation Sans', sans-serif" font-size="13.5" font-weight="normal" text-anchor="start" fill="#111" >20</text>
<line x1="725.8" y1="476.0" x2="690.0" y2="501.0" stroke="#0c0c0c" stroke-width="1.20" />
<text x="713.5" y="622.3" font-family="'Liberation Sans', sans-serif" font-size="13.5" font-weight="normal" text-anchor="start" fill="#111" textLength="53" lengthAdjust="spacingAndGlyphs" >1-24-17</text>
<line x1="705.5" y1="628.0" x2="686.0" y2="654.0" stroke="#0c0c0c" stroke-width="1.20" />
<text transform="translate(392.60,717.0) scale(0.826,1)" x="0" y="0" font-family="'Liberation Sans', sans-serif" font-size="12.57" font-weight="bold" text-anchor="middle" fill="#111" style="stroke:#111;stroke-width:0px">V</text>
<text transform="translate(400.50,717.0) scale(0.859,1)" x="0" y="0" font-family="'Liberation Sans', sans-serif" font-size="12.57" font-weight="bold" text-anchor="middle" fill="#111" style="stroke:#111;stroke-width:0px">I</text>
<text transform="translate(408.40,717.0) scale(0.826,1)" x="0" y="0" font-family="'Liberation Sans', sans-serif" font-size="12.57" font-weight="bold" text-anchor="middle" fill="#111" style="stroke:#111;stroke-width:0px">E</text>
<text transform="translate(416.30,717.0) scale(0.583,1)" x="0" y="0" font-family="'Liberation Sans', sans-serif" font-size="12.57" font-weight="bold" text-anchor="middle" fill="#111" style="stroke:#111;stroke-width:0px">W</text>
<text transform="translate(432.10,717.0) scale(0.826,1)" x="0" y="0" font-family="'Liberation Sans', sans-serif" font-size="12.57" font-weight="bold" text-anchor="middle" fill="#111" style="stroke:#111;stroke-width:0px">A</text>
<text transform="translate(440.00,717.0) scale(0.859,1)" x="0" y="0" font-family="'Liberation Sans', sans-serif" font-size="12.57" font-weight="bold" text-anchor="middle" fill="#111" style="stroke:#111;stroke-width:0px">-</text>
<text transform="translate(447.90,717.0) scale(0.826,1)" x="0" y="0" font-family="'Liberation Sans', sans-serif" font-size="12.57" font-weight="bold" text-anchor="middle" fill="#111" style="stroke:#111;stroke-width:0px">A</text>
<text transform="translate(354.60,730.0) scale(0.763,1)" x="0" y="0" font-family="'Liberation Sans', sans-serif" font-size="12.57" font-weight="bold" text-anchor="middle" fill="#111" style="stroke:#111;stroke-width:0px">R</text>
<text transform="translate(362.26,730.0) scale(0.708,1)" x="0" y="0" font-family="'Liberation Sans', sans-serif" font-size="12.57" font-weight="bold" text-anchor="middle" fill="#111" style="stroke:#111;stroke-width:0px">O</text>
<text transform="translate(369.92,730.0) scale(0.901,1)" x="0" y="0" font-family="'Liberation Sans', sans-serif" font-size="12.57" font-weight="bold" text-anchor="middle" fill="#111" style="stroke:#111;stroke-width:0px">T</text>
<text transform="translate(377.58,730.0) scale(0.826,1)" x="0" y="0" font-family="'Liberation Sans', sans-serif" font-size="12.57" font-weight="bold" text-anchor="middle" fill="#111" style="stroke:#111;stroke-width:0px">A</text>
<text transform="translate(385.24,730.0) scale(0.901,1)" x="0" y="0" font-family="'Liberation Sans', sans-serif" font-size="12.57" font-weight="bold" text-anchor="middle" fill="#111" style="stroke:#111;stroke-width:0px">T</text>
<text transform="translate(392.90,730.0) scale(0.826,1)" x="0" y="0" font-family="'Liberation Sans', sans-serif" font-size="12.57" font-weight="bold" text-anchor="middle" fill="#111" style="stroke:#111;stroke-width:0px">E</text>
<text transform="translate(400.56,730.0) scale(0.763,1)" x="0" y="0" font-family="'Liberation Sans', sans-serif" font-size="12.57" font-weight="bold" text-anchor="middle" fill="#111" style="stroke:#111;stroke-width:0px">D</text>
<text transform="translate(415.88,730.0) scale(0.991,1)" x="0" y="0" font-family="'Liberation Sans', sans-serif" font-size="12.57" font-weight="bold" text-anchor="middle" fill="#111" style="stroke:#111;stroke-width:0px">9</text>
<text transform="translate(423.54,730.0) scale(0.991,1)" x="0" y="0" font-family="'Liberation Sans', sans-serif" font-size="12.57" font-weight="bold" text-anchor="middle" fill="#111" style="stroke:#111;stroke-width:0px">0</text>
<text transform="translate(438.86,730.0) scale(0.763,1)" x="0" y="0" font-family="'Liberation Sans', sans-serif" font-size="12.57" font-weight="bold" text-anchor="middle" fill="#111" style="stroke:#111;stroke-width:0px">D</text>
<text transform="translate(446.52,730.0) scale(0.826,1)" x="0" y="0" font-family="'Liberation Sans', sans-serif" font-size="12.57" font-weight="bold" text-anchor="middle" fill="#111" style="stroke:#111;stroke-width:0px">E</text>
<text transform="translate(454.18,730.0) scale(0.708,1)" x="0" y="0" font-family="'Liberation Sans', sans-serif" font-size="12.57" font-weight="bold" text-anchor="middle" fill="#111" style="stroke:#111;stroke-width:0px">G</text>
<text transform="translate(461.84,730.0) scale(0.763,1)" x="0" y="0" font-family="'Liberation Sans', sans-serif" font-size="12.57" font-weight="bold" text-anchor="middle" fill="#111" style="stroke:#111;stroke-width:0px">R</text>
<text transform="translate(469.50,730.0) scale(0.826,1)" x="0" y="0" font-family="'Liberation Sans', sans-serif" font-size="12.57" font-weight="bold" text-anchor="middle" fill="#111" style="stroke:#111;stroke-width:0px">E</text>
<text transform="translate(477.16,730.0) scale(0.826,1)" x="0" y="0" font-family="'Liberation Sans', sans-serif" font-size="12.57" font-weight="bold" text-anchor="middle" fill="#111" style="stroke:#111;stroke-width:0px">E</text>
<text transform="translate(484.82,730.0) scale(0.826,1)" x="0" y="0" font-family="'Liberation Sans', sans-serif" font-size="12.57" font-weight="bold" text-anchor="middle" fill="#111" style="stroke:#111;stroke-width:0px">S</text>
<g transform="translate(270,486) rotate(-22.6)">
<text x="0.0" y="0.0" font-family="'Liberation Sans', sans-serif" font-size="10.8" font-weight="normal" text-anchor="start" fill="#000" style="stroke:#000;stroke-width:0.25px">777parts.com</text>
</g>
<path d="M184,812 L184,790 L282,790 L282,816" fill="none" stroke="#303030" stroke-width="0.90" stroke-dasharray="2 1" stroke-linejoin="round" />
<rect x="191.0" y="781.0" width="16.0" height="9.0" rx="0" fill="none" stroke="#161616" stroke-width="1.00"/>
<line x1="196.5" y1="781.0" x2="196.5" y2="790.0" stroke="#0c0c0c" stroke-width="0.80" />
<line x1="201.5" y1="781.0" x2="201.5" y2="790.0" stroke="#0c0c0c" stroke-width="0.80" />
<rect x="261.0" y="781.0" width="14.0" height="9.0" rx="0" fill="none" stroke="#161616" stroke-width="1.00"/>
<line x1="265.5" y1="781.0" x2="265.5" y2="790.0" stroke="#0c0c0c" stroke-width="0.80" />
<line x1="270.5" y1="781.0" x2="270.5" y2="790.0" stroke="#0c0c0c" stroke-width="0.80" />
<path d="M172.0,822.0 C174.0,819.7 179.3,811.8 184.0,808.0 C188.7,804.2 193.7,801.3 200.0,799.0 C206.3,796.7 214.7,794.8 222.0,794.0 C229.3,793.2 236.7,793.2 244.0,794.0 C251.3,794.8 259.7,796.7 266.0,799.0 C272.3,801.3 279.3,806.5 282.0,808.0" fill="none" stroke="#222" stroke-width="0.90" stroke-linejoin="round" />
<rect x="284.0" y="800.0" width="2.5" height="15.0" rx="0" fill="#444" stroke="#0c0c0c" stroke-width="1.10"/>
<path d="M140.0,820.0 C138.5,823.0 133.7,831.3 131.0,838.0 C128.3,844.7 125.6,852.7 124.0,860.0 C122.4,867.3 121.5,874.5 121.5,882.0 C121.5,889.5 122.6,898.3 124.0,905.0 C125.4,911.7 127.5,916.5 130.0,922.0 C132.5,927.5 137.5,935.3 139.0,938.0" fill="none" stroke="#161616" stroke-width="1.00" stroke-linejoin="round" />
<path d="M327.0,818.0 C328.8,821.0 335.0,829.3 338.0,836.0 C341.0,842.7 343.2,850.3 345.0,858.0 C346.8,865.7 348.3,874.2 348.5,882.0 C348.7,889.8 347.4,898.3 346.0,905.0 C344.6,911.7 342.5,916.5 340.0,922.0 C337.5,927.5 332.5,935.3 331.0,938.0" fill="none" stroke="#161616" stroke-width="1.00" stroke-linejoin="round" />
<path d="M172.0,820.0 C170.5,822.0 166.0,827.3 163.0,832.0 C160.0,836.7 156.3,842.3 154.0,848.0 C151.7,853.7 150.0,860.0 149.0,866.0 C148.0,872.0 147.8,878.0 148.0,884.0 C148.2,890.0 148.7,896.0 150.0,902.0 C151.3,908.0 153.3,914.3 156.0,920.0 C158.7,925.7 162.0,931.0 166.0,936.0 C170.0,941.0 177.7,947.7 180.0,950.0" fill="none" stroke="#161616" stroke-width="1.00" stroke-dasharray="5 1" stroke-linejoin="round" />
<path d="M172.0,838.0 C170.8,841.0 166.8,850.0 165.0,856.0 C163.2,862.0 162.0,868.0 161.5,874.0 C161.0,880.0 161.2,886.3 162.0,892.0 C162.8,897.7 164.0,902.3 166.0,908.0 C168.0,913.7 170.7,919.7 174.0,926.0 C177.3,932.3 184.0,942.7 186.0,946.0" fill="none" stroke="#222" stroke-width="0.90" stroke-linejoin="round" />
<path d="M160.0,826.0 C158.7,828.7 154.3,836.0 152.0,842.0 C149.7,848.0 147.2,855.0 146.0,862.0 C144.8,869.0 144.3,877.0 144.5,884.0 C144.7,891.0 145.6,897.7 147.0,904.0 C148.4,910.3 150.8,917.0 153.0,922.0 C155.2,927.0 158.8,932.0 160.0,934.0" fill="none" stroke="#303030" stroke-width="0.90" stroke-dasharray="3 1.5" stroke-linejoin="round" />
<path d="M297.0,820.0 C298.2,822.0 301.5,827.3 304.0,832.0 C306.5,836.7 309.8,842.3 312.0,848.0 C314.2,853.7 316.3,860.0 317.5,866.0 C318.7,872.0 319.1,878.0 319.0,884.0 C318.9,890.0 318.3,896.0 317.0,902.0 C315.7,908.0 313.7,914.3 311.0,920.0 C308.3,925.7 304.8,931.0 301.0,936.0 C297.2,941.0 290.2,947.7 288.0,950.0" fill="none" stroke="#161616" stroke-width="1.00" stroke-dasharray="5 1" stroke-linejoin="round" />
<path d="M297.0,840.0 C297.8,842.7 300.7,850.3 302.0,856.0 C303.3,861.7 304.6,868.0 305.0,874.0 C305.4,880.0 305.3,886.3 304.5,892.0 C303.7,897.7 302.1,902.3 300.0,908.0 C297.9,913.7 295.2,919.7 292.0,926.0 C288.8,932.3 282.8,942.7 281.0,946.0" fill="none" stroke="#222" stroke-width="0.90" stroke-linejoin="round" />
<path d="M308.0,838.0 C309.3,841.0 313.8,849.7 316.0,856.0 C318.2,862.3 320.5,870.0 321.5,876.0 C322.5,882.0 322.4,886.7 322.0,892.0 C321.6,897.3 320.5,902.7 319.0,908.0 C317.5,913.3 315.2,919.3 313.0,924.0 C310.8,928.7 307.2,934.0 306.0,936.0" fill="none" stroke="#303030" stroke-width="0.90" stroke-dasharray="3 1.5" stroke-linejoin="round" />
<line x1="149.0" y1="860.0" x2="160.0" y2="860.0" stroke="#161616" stroke-width="1.30" />
<line x1="149.0" y1="862.0" x2="160.0" y2="862.0" stroke="#303030" stroke-width="0.80" />
<line x1="150.0" y1="898.0" x2="161.0" y2="898.0" stroke="#161616" stroke-width="1.30" />
<line x1="150.0" y1="900.0" x2="161.0" y2="900.0" stroke="#303030" stroke-width="0.80" />
<line x1="306.0" y1="862.0" x2="317.0" y2="862.0" stroke="#161616" stroke-width="1.30" />
<line x1="306.0" y1="864.0" x2="317.0" y2="864.0" stroke="#303030" stroke-width="0.80" />
<line x1="305.0" y1="898.0" x2="316.0" y2="898.0" stroke="#161616" stroke-width="1.30" />
<line x1="305.0" y1="900.0" x2="316.0" y2="900.0" stroke="#303030" stroke-width="0.80" />
<circle cx="147.5" cy="829.0" r="11.6" fill="#fff" stroke="#161616" stroke-width="1.10"/>
<circle cx="147.5" cy="829.0" r="8.0" fill="none" stroke="#222" stroke-width="1.00"/>
<circle cx="147.5" cy="929.5" r="11.6" fill="#fff" stroke="#161616" stroke-width="1.10"/>
<circle cx="147.5" cy="929.5" r="8.0" fill="none" stroke="#222" stroke-width="1.00"/>
<circle cx="320.0" cy="929.5" r="11.6" fill="#fff" stroke="#161616" stroke-width="1.10"/>
<circle cx="320.0" cy="929.5" r="8.0" fill="none" stroke="#222" stroke-width="1.00"/>
<circle cx="320.5" cy="829.5" r="11.6" fill="#fff" stroke="#161616" stroke-width="1.10"/>
<circle cx="320.5" cy="829.5" r="8.0" fill="none" stroke="#222" stroke-width="1.00"/>
<rect x="297.5" y="812.0" width="15.5" height="24.0" rx="0" fill="#fff" stroke="none" stroke-width="0.20"/>
<rect x="297.0" y="805.0" width="33.0" height="7.0" rx="3.5" fill="#fff" stroke="#161616" stroke-width="1.10"/>
<rect x="309.0" y="803.0" width="8.0" height="2.0" rx="0" fill="none" stroke="#222" stroke-width="0.90"/>
<rect x="305.0" y="811.0" width="3.0" height="27.0" rx="0" fill="#555" stroke="#0c0c0c" stroke-width="1.10"/>
<line x1="311.0" y1="812.0" x2="311.0" y2="836.0" stroke="#161616" stroke-width="1.00" />
<line x1="301.0" y1="812.0" x2="301.0" y2="822.0" stroke="#222" stroke-width="0.90" />
<path d="M172,816 L297,816" fill="none" stroke="#0c0c0c" stroke-width="1.50" stroke-linejoin="round" />
<path d="M172,816 L172,888 C172.5,915 178,935 186,953 M295.5,816 L295.5,888 C295,915 289,935 281,953" fill="none" stroke="#0c0c0c" stroke-width="1.30" stroke-linejoin="round" />
<path d="M186.0,951.0 C189.0,952.5 197.7,957.6 204.0,960.0 C210.3,962.4 219.0,964.4 224.0,965.5 C229.0,966.6 230.3,966.5 234.0,966.5 C237.7,966.5 240.7,966.6 246.0,965.5 C251.3,964.4 259.8,962.4 266.0,960.0 C272.2,957.6 280.2,952.5 283.0,951.0" fill="none" stroke="#161616" stroke-width="1.20" stroke-dasharray="4 1" stroke-linejoin="round" />
<path d="M186.0,951.0 C186.2,952.5 185.8,957.7 187.0,960.0 C188.2,962.3 190.8,964.5 193.0,965.0 C195.2,965.5 198.2,964.2 200.0,963.0 C201.8,961.8 203.3,958.8 204.0,958.0" fill="none" stroke="#222" stroke-width="0.90" stroke-linejoin="round" />
<path d="M283.0,951.0 C282.8,952.5 283.2,957.7 282.0,960.0 C280.8,962.3 278.2,964.5 276.0,965.0 C273.8,965.5 270.8,964.2 269.0,963.0 C267.2,961.8 265.7,958.8 265.0,958.0" fill="none" stroke="#222" stroke-width="0.90" stroke-linejoin="round" />
<path d="M206,959 L209,948 Q210,943 215,943 L254,943 Q259,943 260,948 L263,959" fill="none" stroke="#161616" stroke-width="1.10" stroke-linejoin="round" />
<line x1="211.0" y1="949.0" x2="258.0" y2="949.0" stroke="#222" stroke-width="0.90" />
<line x1="214.0" y1="949.0" x2="214.0" y2="960.0" stroke="#303030" stroke-width="0.80" />
<line x1="255.0" y1="949.0" x2="255.0" y2="960.0" stroke="#303030" stroke-width="0.80" />
<path d="M229,949 Q233,944 238,949" fill="none" stroke="#222" stroke-width="0.90" stroke-linejoin="round" />
<path d="M206.0,959.0 C208.3,959.7 215.3,962.2 220.0,963.0 C224.7,963.8 229.2,964.0 234.0,964.0 C238.8,964.0 244.2,963.8 249.0,963.0 C253.8,962.2 260.7,959.7 263.0,959.0" fill="none" stroke="#161616" stroke-width="1.50" stroke-dasharray="2 1" stroke-linejoin="round" />
<g transform="translate(0,815) scale(1,0.967) translate(0,-815.5)">
<path d="M584,812 L584,790 L682,790 L682,816" fill="none" stroke="#303030" stroke-width="0.90" stroke-dasharray="2 1" stroke-linejoin="round" />
<rect x="591.0" y="781.0" width="16.0" height="9.0" rx="0" fill="none" stroke="#161616" stroke-width="1.00"/>
<line x1="596.5" y1="781.0" x2="596.5" y2="790.0" stroke="#0c0c0c" stroke-width="0.80" />
<line x1="601.5" y1="781.0" x2="601.5" y2="790.0" stroke="#0c0c0c" stroke-width="0.80" />
<rect x="661.0" y="781.0" width="14.0" height="9.0" rx="0" fill="none" stroke="#161616" stroke-width="1.00"/>
<line x1="665.5" y1="781.0" x2="665.5" y2="790.0" stroke="#0c0c0c" stroke-width="0.80" />
<line x1="670.5" y1="781.0" x2="670.5" y2="790.0" stroke="#0c0c0c" stroke-width="0.80" />
<path d="M572.0,822.0 C574.0,819.7 579.3,811.8 584.0,808.0 C588.7,804.2 593.7,801.3 600.0,799.0 C606.3,796.7 614.7,794.8 622.0,794.0 C629.3,793.2 636.7,793.2 644.0,794.0 C651.3,794.8 659.7,796.7 666.0,799.0 C672.3,801.3 679.3,806.5 682.0,808.0" fill="none" stroke="#222" stroke-width="0.90" stroke-linejoin="round" />
<rect x="684.0" y="800.0" width="2.5" height="15.0" rx="0" fill="#444" stroke="#0c0c0c" stroke-width="1.10"/>
<path d="M540.0,820.0 C538.5,823.0 533.7,831.3 531.0,838.0 C528.3,844.7 525.6,852.7 524.0,860.0 C522.4,867.3 521.5,874.5 521.5,882.0 C521.5,889.5 522.6,898.3 524.0,905.0 C525.4,911.7 527.5,916.5 530.0,922.0 C532.5,927.5 537.5,935.3 539.0,938.0" fill="none" stroke="#161616" stroke-width="1.00" stroke-linejoin="round" />
<path d="M727.0,818.0 C728.8,821.0 735.0,829.3 738.0,836.0 C741.0,842.7 743.2,850.3 745.0,858.0 C746.8,865.7 748.3,874.2 748.5,882.0 C748.7,889.8 747.4,898.3 746.0,905.0 C744.6,911.7 742.5,916.5 740.0,922.0 C737.5,927.5 732.5,935.3 731.0,938.0" fill="none" stroke="#161616" stroke-width="1.00" stroke-linejoin="round" />
<path d="M572.0,820.0 C570.5,822.0 566.0,827.3 563.0,832.0 C560.0,836.7 556.3,842.3 554.0,848.0 C551.7,853.7 550.0,860.0 549.0,866.0 C548.0,872.0 547.8,878.0 548.0,884.0 C548.2,890.0 548.7,896.0 550.0,902.0 C551.3,908.0 553.3,914.3 556.0,920.0 C558.7,925.7 562.0,931.0 566.0,936.0 C570.0,941.0 577.7,947.7 580.0,950.0" fill="none" stroke="#161616" stroke-width="1.00" stroke-dasharray="5 1" stroke-linejoin="round" />
<path d="M572.0,838.0 C570.8,841.0 566.8,850.0 565.0,856.0 C563.2,862.0 562.0,868.0 561.5,874.0 C561.0,880.0 561.2,886.3 562.0,892.0 C562.8,897.7 564.0,902.3 566.0,908.0 C568.0,913.7 570.7,919.7 574.0,926.0 C577.3,932.3 584.0,942.7 586.0,946.0" fill="none" stroke="#222" stroke-width="0.90" stroke-linejoin="round" />
<path d="M560.0,826.0 C558.7,828.7 554.3,836.0 552.0,842.0 C549.7,848.0 547.2,855.0 546.0,862.0 C544.8,869.0 544.3,877.0 544.5,884.0 C544.7,891.0 545.6,897.7 547.0,904.0 C548.4,910.3 550.8,917.0 553.0,922.0 C555.2,927.0 558.8,932.0 560.0,934.0" fill="none" stroke="#303030" stroke-width="0.90" stroke-dasharray="3 1.5" stroke-linejoin="round" />
<path d="M697.0,820.0 C698.2,822.0 701.5,827.3 704.0,832.0 C706.5,836.7 709.8,842.3 712.0,848.0 C714.2,853.7 716.3,860.0 717.5,866.0 C718.7,872.0 719.1,878.0 719.0,884.0 C718.9,890.0 718.3,896.0 717.0,902.0 C715.7,908.0 713.7,914.3 711.0,920.0 C708.3,925.7 704.8,931.0 701.0,936.0 C697.2,941.0 690.2,947.7 688.0,950.0" fill="none" stroke="#161616" stroke-width="1.00" stroke-dasharray="5 1" stroke-linejoin="round" />
<path d="M697.0,840.0 C697.8,842.7 700.7,850.3 702.0,856.0 C703.3,861.7 704.6,868.0 705.0,874.0 C705.4,880.0 705.3,886.3 704.5,892.0 C703.7,897.7 702.1,902.3 700.0,908.0 C697.9,913.7 695.2,919.7 692.0,926.0 C688.8,932.3 682.8,942.7 681.0,946.0" fill="none" stroke="#222" stroke-width="0.90" stroke-linejoin="round" />
<path d="M708.0,838.0 C709.3,841.0 713.8,849.7 716.0,856.0 C718.2,862.3 720.5,870.0 721.5,876.0 C722.5,882.0 722.4,886.7 722.0,892.0 C721.6,897.3 720.5,902.7 719.0,908.0 C717.5,913.3 715.2,919.3 713.0,924.0 C710.8,928.7 707.2,934.0 706.0,936.0" fill="none" stroke="#303030" stroke-width="0.90" stroke-dasharray="3 1.5" stroke-linejoin="round" />
<line x1="549.0" y1="860.0" x2="560.0" y2="860.0" stroke="#161616" stroke-width="1.30" />
<line x1="549.0" y1="862.0" x2="560.0" y2="862.0" stroke="#303030" stroke-width="0.80" />
<line x1="550.0" y1="898.0" x2="561.0" y2="898.0" stroke="#161616" stroke-width="1.30" />
<line x1="550.0" y1="900.0" x2="561.0" y2="900.0" stroke="#303030" stroke-width="0.80" />
<line x1="706.0" y1="862.0" x2="717.0" y2="862.0" stroke="#161616" stroke-width="1.30" />
<line x1="706.0" y1="864.0" x2="717.0" y2="864.0" stroke="#303030" stroke-width="0.80" />
<line x1="705.0" y1="898.0" x2="716.0" y2="898.0" stroke="#161616" stroke-width="1.30" />
<line x1="705.0" y1="900.0" x2="716.0" y2="900.0" stroke="#303030" stroke-width="0.80" />
<circle cx="547.5" cy="829.0" r="11.6" fill="#fff" stroke="#161616" stroke-width="1.10"/>
<circle cx="547.5" cy="829.0" r="8.0" fill="none" stroke="#222" stroke-width="1.00"/>
<circle cx="547.5" cy="929.5" r="11.6" fill="#fff" stroke="#161616" stroke-width="1.10"/>
<circle cx="547.5" cy="929.5" r="8.0" fill="none" stroke="#222" stroke-width="1.00"/>
<circle cx="720.0" cy="929.5" r="11.6" fill="#fff" stroke="#161616" stroke-width="1.10"/>
<circle cx="720.0" cy="929.5" r="8.0" fill="none" stroke="#222" stroke-width="1.00"/>
<circle cx="720.5" cy="829.5" r="11.6" fill="#fff" stroke="#161616" stroke-width="1.10"/>
<circle cx="720.5" cy="829.5" r="8.0" fill="none" stroke="#222" stroke-width="1.00"/>
<rect x="697.5" y="812.0" width="15.5" height="24.0" rx="0" fill="#fff" stroke="none" stroke-width="0.20"/>
<rect x="697.0" y="805.0" width="33.0" height="7.0" rx="3.5" fill="#fff" stroke="#161616" stroke-width="1.10"/>
<rect x="709.0" y="803.0" width="8.0" height="2.0" rx="0" fill="none" stroke="#222" stroke-width="0.90"/>
<rect x="705.0" y="811.0" width="3.0" height="27.0" rx="0" fill="#555" stroke="#0c0c0c" stroke-width="1.10"/>
<line x1="711.0" y1="812.0" x2="711.0" y2="836.0" stroke="#161616" stroke-width="1.00" />
<line x1="701.0" y1="812.0" x2="701.0" y2="822.0" stroke="#222" stroke-width="0.90" />
<path d="M572,816 L697,816" fill="none" stroke="#0c0c0c" stroke-width="1.50" stroke-linejoin="round" />
<path d="M572,816 L572,888 C572.5,915 578,935 586,953 M695.5,816 L695.5,888 C695,915 689,935 681,953" fill="none" stroke="#0c0c0c" stroke-width="1.30" stroke-linejoin="round" />
<path d="M586.0,951.0 C589.0,952.5 597.7,957.6 604.0,960.0 C610.3,962.4 619.0,964.4 624.0,965.5 C629.0,966.6 630.3,966.5 634.0,966.5 C637.7,966.5 640.7,966.6 646.0,965.5 C651.3,964.4 659.8,962.4 666.0,960.0 C672.2,957.6 680.2,952.5 683.0,951.0" fill="none" stroke="#161616" stroke-width="1.20" stroke-dasharray="4 1" stroke-linejoin="round" />
<path d="M586.0,951.0 C586.2,952.5 585.8,957.7 587.0,960.0 C588.2,962.3 590.8,964.5 593.0,965.0 C595.2,965.5 598.2,964.2 600.0,963.0 C601.8,961.8 603.3,958.8 604.0,958.0" fill="none" stroke="#222" stroke-width="0.90" stroke-linejoin="round" />
<path d="M683.0,951.0 C682.8,952.5 683.2,957.7 682.0,960.0 C680.8,962.3 678.2,964.5 676.0,965.0 C673.8,965.5 670.8,964.2 669.0,963.0 C667.2,961.8 665.7,958.8 665.0,958.0" fill="none" stroke="#222" stroke-width="0.90" stroke-linejoin="round" />
<path d="M606,959 L609,948 Q610,943 615,943 L654,943 Q659,943 660,948 L663,959" fill="none" stroke="#161616" stroke-width="1.10" stroke-linejoin="round" />
<line x1="611.0" y1="949.0" x2="658.0" y2="949.0" stroke="#222" stroke-width="0.90" />
<line x1="614.0" y1="949.0" x2="614.0" y2="960.0" stroke="#303030" stroke-width="0.80" />
<line x1="655.0" y1="949.0" x2="655.0" y2="960.0" stroke="#303030" stroke-width="0.80" />
<path d="M629,949 Q633,944 638,949" fill="none" stroke="#222" stroke-width="0.90" stroke-linejoin="round" />
<path d="M606.0,959.0 C608.3,959.7 615.3,962.2 620.0,963.0 C624.7,963.8 629.2,964.0 634.0,964.0 C638.8,964.0 644.2,963.8 649.0,963.0 C653.8,962.2 660.7,959.7 663.0,959.0" fill="none" stroke="#161616" stroke-width="1.50" stroke-dasharray="2 1" stroke-linejoin="round" />
</g>
<path d="M218.0,806.0 C221.8,805.3 229.7,804.7 235.0,805.0 C240.3,805.3 246.2,806.8 250.0,808.0 C253.8,809.2 256.8,809.7 258.0,812.0 C259.2,814.3 258.3,819.2 257.0,822.0 C255.7,824.8 253.7,827.3 250.0,829.0 C246.3,830.7 240.3,831.3 235.0,832.0 C229.7,832.7 222.0,833.7 218.0,833.0 C214.0,832.3 212.5,830.5 211.0,828.0 C209.5,825.5 208.8,821.2 209.0,818.0 C209.2,814.8 210.5,811.0 212.0,809.0 C213.5,807.0 214.2,806.7 218.0,806.0 Z" fill="none" stroke="#161616" stroke-width="1.00" stroke-linejoin="round" />
<line x1="221.0" y1="807.0" x2="221.0" y2="832.0" stroke="#303030" stroke-width="0.90" stroke-dasharray="2 1" />
<line x1="229.0" y1="807.0" x2="229.0" y2="832.0" stroke="#303030" stroke-width="0.90" stroke-dasharray="2 1" />
<line x1="236.0" y1="807.0" x2="236.0" y2="832.0" stroke="#303030" stroke-width="0.90" stroke-dasharray="2 1" />
<line x1="243.0" y1="807.0" x2="243.0" y2="832.0" stroke="#303030" stroke-width="0.90" stroke-dasharray="2 1" />
<line x1="221.0" y1="806.0" x2="221.0" y2="833.0" stroke="#0c0c0c" stroke-width="1.40" />
<line x1="214.0" y1="816.0" x2="250.0" y2="816.0" stroke="#0c0c0c" stroke-width="1.60" />
<path d="M618.0,803.0 C622.8,801.2 633.8,800.8 640.0,801.0 C646.2,801.2 651.8,802.3 655.0,804.0 C658.2,805.7 659.2,808.3 659.0,811.0 C658.8,813.7 656.3,817.5 654.0,820.0 C651.7,822.5 649.0,824.5 645.0,826.0 C641.0,827.5 634.8,828.7 630.0,829.0 C625.2,829.3 619.3,829.2 616.0,828.0 C612.7,826.8 610.8,824.7 610.0,822.0 C609.2,819.3 609.7,815.2 611.0,812.0 C612.3,808.8 613.2,804.8 618.0,803.0 Z" fill="none" stroke="#161616" stroke-width="1.00" stroke-linejoin="round" />
<line x1="622.0" y1="803.0" x2="622.0" y2="828.0" stroke="#303030" stroke-width="0.90" stroke-dasharray="2 1" />
<line x1="630.0" y1="803.0" x2="630.0" y2="828.0" stroke="#303030" stroke-width="0.90" stroke-dasharray="2 1" />
<line x1="637.0" y1="803.0" x2="637.0" y2="828.0" stroke="#303030" stroke-width="0.90" stroke-dasharray="2 1" />
<line x1="644.0" y1="803.0" x2="644.0" y2="828.0" stroke="#303030" stroke-width="0.90" stroke-dasharray="2 1" />
<line x1="619.0" y1="813.5" x2="650.0" y2="813.5" stroke="#0c0c0c" stroke-width="1.60" />
<text x="61.0" y="811.8" font-family="'Liberation Sans', sans-serif" font-size="13.5" font-weight="normal" text-anchor="start" fill="#111" >7</text>
<line x1="78.0" y1="815.0" x2="125.5" y2="845.5" stroke="#0c0c0c" stroke-width="1.20" />
<text x="317.5" y="761.3" font-family="'Liberation Sans', sans-serif" font-size="13.5" font-weight="normal" text-anchor="start" fill="#111" >18</text>
<line x1="308.4" y1="766.0" x2="249.0" y2="816.0" stroke="#0c0c0c" stroke-width="1.20" />
<text x="401.5" y="885.3" font-family="'Liberation Sans', sans-serif" font-size="13.5" font-weight="normal" text-anchor="start" fill="#111" >19</text>
<line x1="394.0" y1="887.0" x2="325.0" y2="923.0" stroke="#0c0c0c" stroke-width="1.20" />
<text x="449.5" y="815.3" font-family="'Liberation Sans', sans-serif" font-size="13.5" font-weight="normal" text-anchor="start" fill="#111" >7</text>
<line x1="465.0" y1="815.0" x2="525.5" y2="843.6" stroke="#0c0c0c" stroke-width="1.20" />
<text x="534.5" y="756.3" font-family="'Liberation Sans', sans-serif" font-size="13.5" font-weight="normal" text-anchor="start" fill="#111" >18</text>
<line x1="560.0" y1="761.0" x2="622.0" y2="813.6" stroke="#0c0c0c" stroke-width="1.20" />
<text x="757.5" y="971.3" font-family="'Liberation Sans', sans-serif" font-size="13.5" font-weight="normal" text-anchor="start" fill="#111" >19</text>
<line x1="749.0" y1="959.5" x2="724.0" y2="935.0" stroke="#0c0c0c" stroke-width="1.20" />
<text transform="translate(402.10,994.5) scale(0.826,1)" x="0" y="0" font-family="'Liberation Sans', sans-serif" font-size="12.57" font-weight="bold" text-anchor="middle" fill="#111" style="stroke:#111;stroke-width:0px">V</text>
<text transform="translate(410.00,994.5) scale(0.859,1)" x="0" y="0" font-family="'Liberation Sans', sans-serif" font-size="12.57" font-weight="bold" text-anchor="middle" fill="#111" style="stroke:#111;stroke-width:0px">I</text>
<text transform="translate(417.90,994.5) scale(0.826,1)" x="0" y="0" font-family="'Liberation Sans', sans-serif" font-size="12.57" font-weight="bold" text-anchor="middle" fill="#111" style="stroke:#111;stroke-width:0px">E</text>
<text transform="translate(425.80,994.5) scale(0.583,1)" x="0" y="0" font-family="'Liberation Sans', sans-serif" font-size="12.57" font-weight="bold" text-anchor="middle" fill="#111" style="stroke:#111;stroke-width:0px">W</text>
<text transform="translate(441.60,994.5) scale(0.826,1)" x="0" y="0" font-family="'Liberation Sans', sans-serif" font-size="12.57" font-weight="bold" text-anchor="middle" fill="#111" style="stroke:#111;stroke-width:0px">B</text>
<text transform="translate(449.50,994.5) scale(0.859,1)" x="0" y="0" font-family="'Liberation Sans', sans-serif" font-size="12.57" font-weight="bold" text-anchor="middle" fill="#111" style="stroke:#111;stroke-width:0px">-</text>
<text transform="translate(457.40,994.5) scale(0.826,1)" x="0" y="0" font-family="'Liberation Sans', sans-serif" font-size="12.57" font-weight="bold" text-anchor="middle" fill="#111" style="stroke:#111;stroke-width:0px">B</text>
<g transform="translate(406,950) rotate(45)">
<text x="0.0" y="0.0" font-family="'Liberation Sans', sans-serif" font-size="15.3" font-weight="normal" text-anchor="start" fill="#000" style="stroke:#000;stroke-width:0.25px">777parts.com</text>
</g>
<g transform="translate(545,1000) rotate(-67)">
<text x="0.0" y="0.0" font-family="'Liberation Sans', sans-serif" font-size="10.7" font-weight="normal" text-anchor="start" fill="#000" style="stroke:#000;stroke-width:0.25px">777parts.com</text>
</g>
</svg>
</body></html>
